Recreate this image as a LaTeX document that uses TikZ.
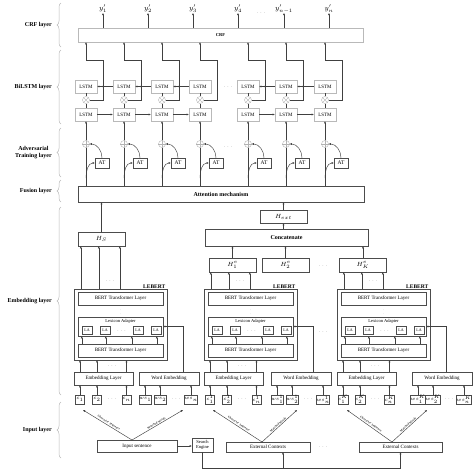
\documentclass[tikz,border=0pt]{standalone}
\usepackage{fontspec}
\setmainfont{Liberation Serif}
\usetikzlibrary{arrows.meta,decorations.pathreplacing}

\begin{document}
\begin{tikzpicture}[x=1pt, y=-1pt,
  wire/.style={draw=black!75, line width=0.45pt},
  arr/.style={wire, -{Triangle[length=2.2pt,width=1.8pt]}},
  box/.style={draw=black!70, line width=0.45pt, inner sep=0pt, font=\fontsize{5}{6}\selectfont},
  bbox/.style={box, font=\bfseries\fontsize{6}{7}\selectfont},
  hbox/.style={box, minimum width=47pt, minimum height=14pt, font=\fontsize{6.5}{7}\selectfont},
  lstm/.style={box, draw=gray!55, minimum width=22pt, minimum height=13pt},
  tok/.style={box, minimum width=9pt, minimum height=9pt, font=\fontsize{3.6}{4}\selectfont},
  wtok/.style={tok, minimum width=10pt},
  op/.style={circle, draw=gray!60, line width=0.4pt, minimum size=7pt, inner sep=0pt},
  lyr/.style={font=\bfseries\fontsize{6}{7}\selectfont, anchor=east, align=center, inner sep=0pt},
  brc/.style={draw=gray!55, line width=0.5pt, decorate, decoration={brace, amplitude=4pt}},
  ell/.style={font=\fontsize{5}{6}\selectfont, text=black!60, inner sep=0pt},
  seq/.style={font=\bfseries\fontsize{3}{3.5}\selectfont, inner sep=0.8pt, text=black!80}
]
  \useasboundingbox (0,0) rectangle (474,475);

  % layer braces
  \draw[brc] (61,47) -- (61,3);
  \node[lyr] (lcrf) at (52,25) {CRF layer};
  \draw[brc] (61,124) -- (61,50);
  \node[lyr] (lbil) at (52,87) {BiLSTM layer};
  \draw[brc] (61,177) -- (61,128);
  \node[lyr] (ladv) at (52,152.5) {Adversarial\\Training layer};
  \draw[brc] (61,202) -- (61,180);
  \node[lyr] (lfus) at (52,191) {Fusion layer};
  \draw[brc] (61,395) -- (61,207);
  \node[lyr] (lemb) at (52,301) {Embedding layer};
  \draw[brc] (61,458) -- (61,402);
  \node[lyr] (linp) at (52,430) {Input layer};

  % CRF layer
  \node[box, draw=gray!55, minimum width=285pt, minimum height=14pt, font=\bfseries\fontsize{4.5}{5}\selectfont] (crf) at (220.5,35) {CRF};
  \foreach \x/\t [count=\i] in {103/{y'_1},148/{y'_2},193/{y'_3},238/{y'_4},284/{y'_{n-1}},329/{y'_n}} {
    \node[font=\fontsize{7}{8}\selectfont, inner sep=0.5pt, text height=5pt, text depth=1.5pt] (y\i) at (\x,9) {$\t$};
    \draw[arr] (crf.north -| y\i) -- (y\i.south);
  }
  \node[ell] at (261,13) {$\cdots$};

  % fusion layer
  \node[bbox, minimum width=286pt, minimum height=16pt] (att) at (221,194) {Attention mechanism};

  % BiLSTM and adversarial training columns
  \foreach \cx [count=\i] in {86,124,162,200,248,286,325} {
    \node[lstm] (bw\i) at (\cx,86.5) {LSTM};
    \node[op] (ox\i) at (\cx,100) {};
    \node[lstm] (fw\i) at (\cx,114.5) {LSTM};
    \node[op] (op\i) at (\cx,144) {};
    \node[box, minimum width=14pt, minimum height=10pt, font=\fontsize{5.5}{6}\selectfont] (at\i) at (\cx+16,163) {AT};
    \draw[gray!60, line width=0.35pt] (ox\i.45) -- (ox\i.225) (ox\i.135) -- (ox\i.315);
    \draw[gray!60, line width=0.35pt] (op\i.north) -- (op\i.south) (op\i.east) -- (op\i.west);
    \draw[wire] (bw\i) -- (ox\i) -- (fw\i);
    \draw[arr] (ox\i.east) -| (\cx+17,60) -| (crf.south -| ox\i);
    \draw[arr] (op\i) -- (fw\i);
    \draw[arr] (at\i.north) to[out=90,in=0] (op\i.east);
    \draw[wire] (att.north -| op\i) -- (op\i);
    \draw[arr] (op\i |- 0,178) to[out=90,in=180] (at\i.west);
  }
  \foreach \i/\j in {1/2,2/3,3/4,5/6,6/7} {
    \draw[arr] (bw\j) -- (bw\i);
    \draw[arr] (fw\i) -- (fw\j);
  }
  \foreach \cx in {86,124,162,248,286}
    \fill[black!75] (\cx+17,86.5) circle (0.9pt);
  \node[ell] at (228,87) {$\cdots$};
  \node[ell] at (228,147) {$\cdots$};

  % hidden states
  \node[hbox] (hs) at (101.5,239) {$H_S$};
  \draw[arr] (hs) -- (att.south -| hs);
  \node[bbox, minimum width=163pt, minimum height=17pt] (cat) at (286.5,237.5) {Concatenate};
  \node[hbox, minimum height=13pt] (hext) at (283.5,216.5) {$H_{ext}$};
  \draw[arr] (cat.north -| hext) -- (hext);
  \draw[arr] (hext) -- (att.south -| hext);
  \node[hbox] (he1) at (232.5,265) {$H^e_1$};
  \node[hbox] (he2) at (285.5,265) {$H^e_2$};
  \node[hbox] (heK) at (363,265) {$H^e_K$};
  \foreach \h in {he1,he2,heK}
    \draw[arr] (\h) -- (cat.south -| \h);
  \node[ell] at (323,266) {$\cdots$};
  \node[ell] at (323,332) {$\cdots$};

  % LEBERT blocks
  \foreach \X/\W/\h/\s [count=\b] in {74/139/hs/{}, 204/271/he1/1, 337/412/heK/K} {
    \node[box, minimum width=93pt, minimum height=71pt] (lb\b) at (\X+46.5,324.5) {};
    \node[font=\bfseries\fontsize{5.5}{6}\selectfont, anchor=south east, inner sep=0.5pt] (lbt\b) at (\X+92,289) {LEBERT};
    \node[box, minimum width=85pt, minimum height=13pt] (bu\b) at (\X+46.5,298.5) {BERT Transformer Layer};
    \node[ell, font=\fontsize{3}{3}\selectfont] at (\X+46.5,311) {$\vdots$};
    \node[box, minimum width=85pt, minimum height=19pt] (ad\b) at (\X+46.5,326.5) {};
    \node[font=\fontsize{4.5}{5}\selectfont, inner sep=0pt] (adt\b) at (\X+46.5,321) {Lexicon Adapter};
    \foreach \r [count=\k] in {13,31,64,82}
      \node[box, minimum width=10pt, minimum height=8pt, font=\fontsize{4}{4}\selectfont] (la\b-\k) at (\X+\r,330) {LA};
    \node[ell] at (\X+47.5,331) {$\cdots$};
    \node[box, minimum width=85pt, minimum height=13pt] (bl\b) at (\X+46.5,350.5) {BERT Transformer Layer};
    \foreach \r in {4,28,54,79}
      \draw[arr] ([xshift=\r pt]bl\b.north west) -- ([xshift=\r pt]ad\b.south west);
    % outputs to hidden state
    \foreach \r in {7,25,46} {
      \coordinate (q) at ([xshift=\r pt]lb\b.north west);
      \draw[arr] (q) -- (q |- \h.south);
    }
    \node[ell] at (\X+36,281) {$\cdots$};
    % embeddings
    \node[box, minimum width=59pt, minimum height=13pt] (el\b) at (\X+29.5,378.5) {Embedding Layer};
    \node[box, minimum width=60pt, minimum height=13pt] (we\b) at (\W+30,378.5) {Word Embedding};
    \foreach \r/\t [count=\k] in {6/1,23/2,52.5/n} {
      \node[tok] (c\b-\k) at (\X+\r,399.5) {$c^{\s}_{\t}$};
      \draw[arr] (c\b-\k) -- (el\b.south -| c\b-\k);
      \draw[arr] (el\b.north -| c\b-\k) -- (lb\b.south -| c\b-\k);
    }
    \foreach \r/\t [count=\k] in {6/1,21/2,52/n} {
      \node[wtok] (w\b-\k) at (\W+\r,399.5) {$ws^{\s}_{\t}$};
      \draw[arr] (w\b-\k) -- (we\b.south -| w\b-\k);
    }
    \node[ell] at (\X+38,399.5) {$\cdots$};
    \node[ell] at (\W+37,399.5) {$\cdots$};
    \node[ell] at (\X+38,366) {$\cdots$};
    \coordinate (q) at ([xshift=16pt]lb\b.east);
    \draw[arr] (q |- we\b.north) |- (ad\b.east);
  }

  % input layer
  \node[box, minimum width=80pt, minimum height=12pt] (ins) at (137,446) {Input sentence};
  \node[box, minimum width=21pt, minimum height=14pt, align=center, font=\fontsize{4.5}{5}\selectfont] (se) at (202.5,445) {Search\\Engine};
  \node[box, minimum width=84pt, minimum height=10pt] (ec1) at (268,447) {External Contexts};
  \node[box, minimum width=83pt, minimum height=10pt] (ecK) at (400.5,447) {External Contexts};
  \node[ell] at (323,447) {$\cdots$};
  \draw[arr] (ins.east) -- (se.west |- ins.east);
  \coordinate (bus) at (400.5,468);
  \draw[arr] (se.south) |- (bus) -- (ecK.south);
  \coordinate (q) at ([xshift=15pt]ec1.south);
  \draw[arr] (q |- bus) -- (q);
  \foreach \vx/\vy/\lx/\rx in {132/440/83/183, 262/442/213/297, 392/442/347/427} {
    \coordinate (v) at (\vx,\vy);
    \coordinate (cs) at (\lx,410);
    \coordinate (mw) at (\rx,410);
    \draw[arr] (v) -- node[seq, sloped, above] {Character Sequence} (cs);
    \draw[arr] (v) -- node[seq, sloped, above] {Matched Words} (mw);
  }
\end{tikzpicture}
\end{document}
